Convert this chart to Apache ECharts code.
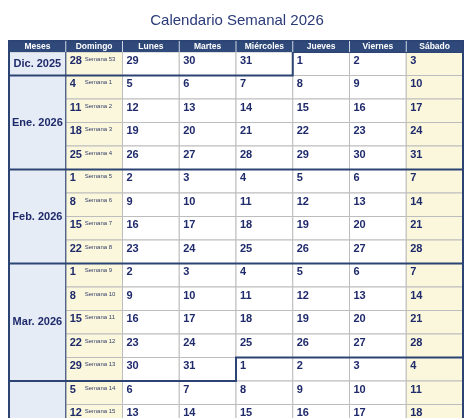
<!DOCTYPE html>
<html><head><meta charset="utf-8">
<script src="https://cdn.jsdelivr.net/npm/echarts@6/dist/echarts.min.js"></script>
<style>html,body{margin:0;padding:0;background:#fff}#c{width:474px;height:418px}</style>
</head><body><div id="c"></div>
<script>
const title = 'Calendario Semanal 2026';
const columns = ['Meses','Domingo','Lunes','Martes','Miércoles','Jueves','Viernes','Sábado'];
const weekDays = [
 [28,29,30,31,1,2,3],[4,5,6,7,8,9,10],[11,12,13,14,15,16,17],[18,19,20,21,22,23,24],[25,26,27,28,29,30,31],
 [1,2,3,4,5,6,7],[8,9,10,11,12,13,14],[15,16,17,18,19,20,21],[22,23,24,25,26,27,28],
 [1,2,3,4,5,6,7],[8,9,10,11,12,13,14],[15,16,17,18,19,20,21],[22,23,24,25,26,27,28],[29,30,31,1,2,3,4],
 [5,6,7,8,9,10,11],[12,13,14,15,16,17,18],[19,20,21,22,23,24,25],[26,27,28,29,30,1,2]
];
const weekNumbers = [53,1,2,3,4,5,6,7,8,9,10,11,12,13,14,15,16,17];
const monthLabels = ['Dic. 2025','Ene. 2026','Feb. 2026','Mar. 2026','Abr. 2026'];
const monthStartRow = [0,1,5,9,14];
const monthEndRow = [0,4,8,13,17];
const monthBreakRow = [0,4,8,13];
const monthBreakCol = [4,7,7,3];

const NAVY = '#1f2a6b', BORDER = '#2c4474', HEAD = '#2f4a7a';
const rows = weekDays.map((_, i) => String(i));
const cellData = [];
weekDays.forEach((w, r) => w.forEach((d, c) => cellData.push([c + 1, r])));

function cellRect(api, col, row) {
  const c = api.coord([col, row]); const s = api.size([1, 1]);
  return {x: c[0] - s[0] / 2, y: c[1] - s[1] / 2, w: s[0], h: s[1]};
}

const chart = echarts.init(document.getElementById('c'));
chart.setOption({
  animation: false,
  title: {text: title, left: 'center', top: 8, textStyle: {color: '#2a3a78', fontSize: 15, fontWeight: 'normal', fontFamily: 'Liberation Sans'}},
  grid: {left: 9, top: 52, width: 454, height: 23.5 * rows.length, outerBoundsMode: 'none', containLabel: false},
  xAxis: {type: 'category', data: columns, show: false},
  yAxis: {type: 'category', data: rows, inverse: true, show: false},
  series: [
    {
      type: 'custom', data: cellData, z: 2,
      renderItem: (p, api) => {
        const col = api.value(0), row = api.value(1);
        const r = cellRect(api, col, row);
        const kids = [{type: 'rect', shape: {x: r.x, y: r.y, width: r.w, height: r.h},
          style: {fill: (col === 1 || col === 7) ? '#faf7dc' : '#fff', stroke: '#bdbdbd', lineWidth: 1}}];
        kids.push({type: 'text', style: {x: r.x + 4, y: r.y + 3, text: String(weekDays[row][col - 1]),
          fill: NAVY, font: 'bold 11px "Liberation Sans"'}});
        if (col === 1) kids.push({type: 'text', style: {x: r.x + 19, y: r.y + 4, text: 'Semana ' + weekNumbers[row],
          fill: '#333c66', font: '6px "Liberation Sans"'}});
        return {type: 'group', children: kids};
      }
    },
    {
      type: 'custom', data: monthLabels.map((m, i) => [0, monthStartRow[i], monthEndRow[i]]), z: 3,
      renderItem: (p, api) => {
        const a = cellRect(api, 0, api.value(1)), b = cellRect(api, 0, api.value(2));
        const h = b.y + b.h - a.y;
        return {type: 'group', children: [
          {type: 'rect', shape: {x: a.x, y: a.y, width: a.w, height: h}, style: {fill: '#e6ecf6', stroke: '#bdbdbd', lineWidth: 1}},
          {type: 'text', style: {x: a.x + a.w / 2, y: a.y + h / 2, text: monthLabels[p.dataIndex], align: 'center', verticalAlign: 'middle',
            fill: NAVY, font: 'bold 11px "Liberation Sans"'}}
        ]};
      }
    },
    {
      type: 'custom', data: monthBreakRow.map((r, i) => [monthBreakCol[i], r]), z: 4,
      renderItem: (p, api) => {
        const col = api.value(0), row = api.value(1);
        const first = cellRect(api, 0, row), last = cellRect(api, 7, row), cut = cellRect(api, col, row);
        const xr = cut.x + cut.w, yb = cut.y + cut.h, yt = cut.y, xe = last.x + last.w;
        const pts = [[first.x, yb], [xr, yb]];
        if (col < 7) { pts.push([xr, yt], [xe, yt]); }
        return {type: 'polyline', shape: {points: pts}, style: {stroke: BORDER, lineWidth: 2, fill: null}};
      }
    },
    {
      type: 'custom', data: [[0, 0]], z: 5,
      renderItem: (p, api) => {
        const a = cellRect(api, 0, 0), z = cellRect(api, 7, rows.length - 1);
        const x0 = a.x, x1 = z.x + z.w, yTop = a.y - 11;
        const kids = [
          {type: 'rect', shape: {x: x0, y: yTop, width: x1 - x0, height: 11}, style: {fill: HEAD}},
          {type: 'polyline', shape: {points: [[x0, z.y + z.h], [x0, yTop], [x1, yTop], [x1, z.y + z.h]]}, style: {stroke: BORDER, lineWidth: 2, fill: null}},
          {type: 'line', shape: {x1: a.x + a.w, y1: a.y, x2: a.x + a.w, y2: z.y + z.h}, style: {stroke: BORDER, lineWidth: 1}}
        ];
        columns.forEach((name, i) => {
          const r = cellRect(api, i, 0);
          if (i > 0) kids.push({type: 'line', shape: {x1: r.x, y1: yTop, x2: r.x, y2: a.y}, style: {stroke: '#d0d6e4', lineWidth: 1}});
          kids.push({type: 'text', style: {x: r.x + r.w / 2, y: yTop + 6, text: name, align: 'center', verticalAlign: 'middle',
            fill: '#fff', font: 'bold 8.5px "Liberation Sans"'}});
        });
        return {type: 'group', children: kids};
      }
    }
  ]
});
</script></body></html>
